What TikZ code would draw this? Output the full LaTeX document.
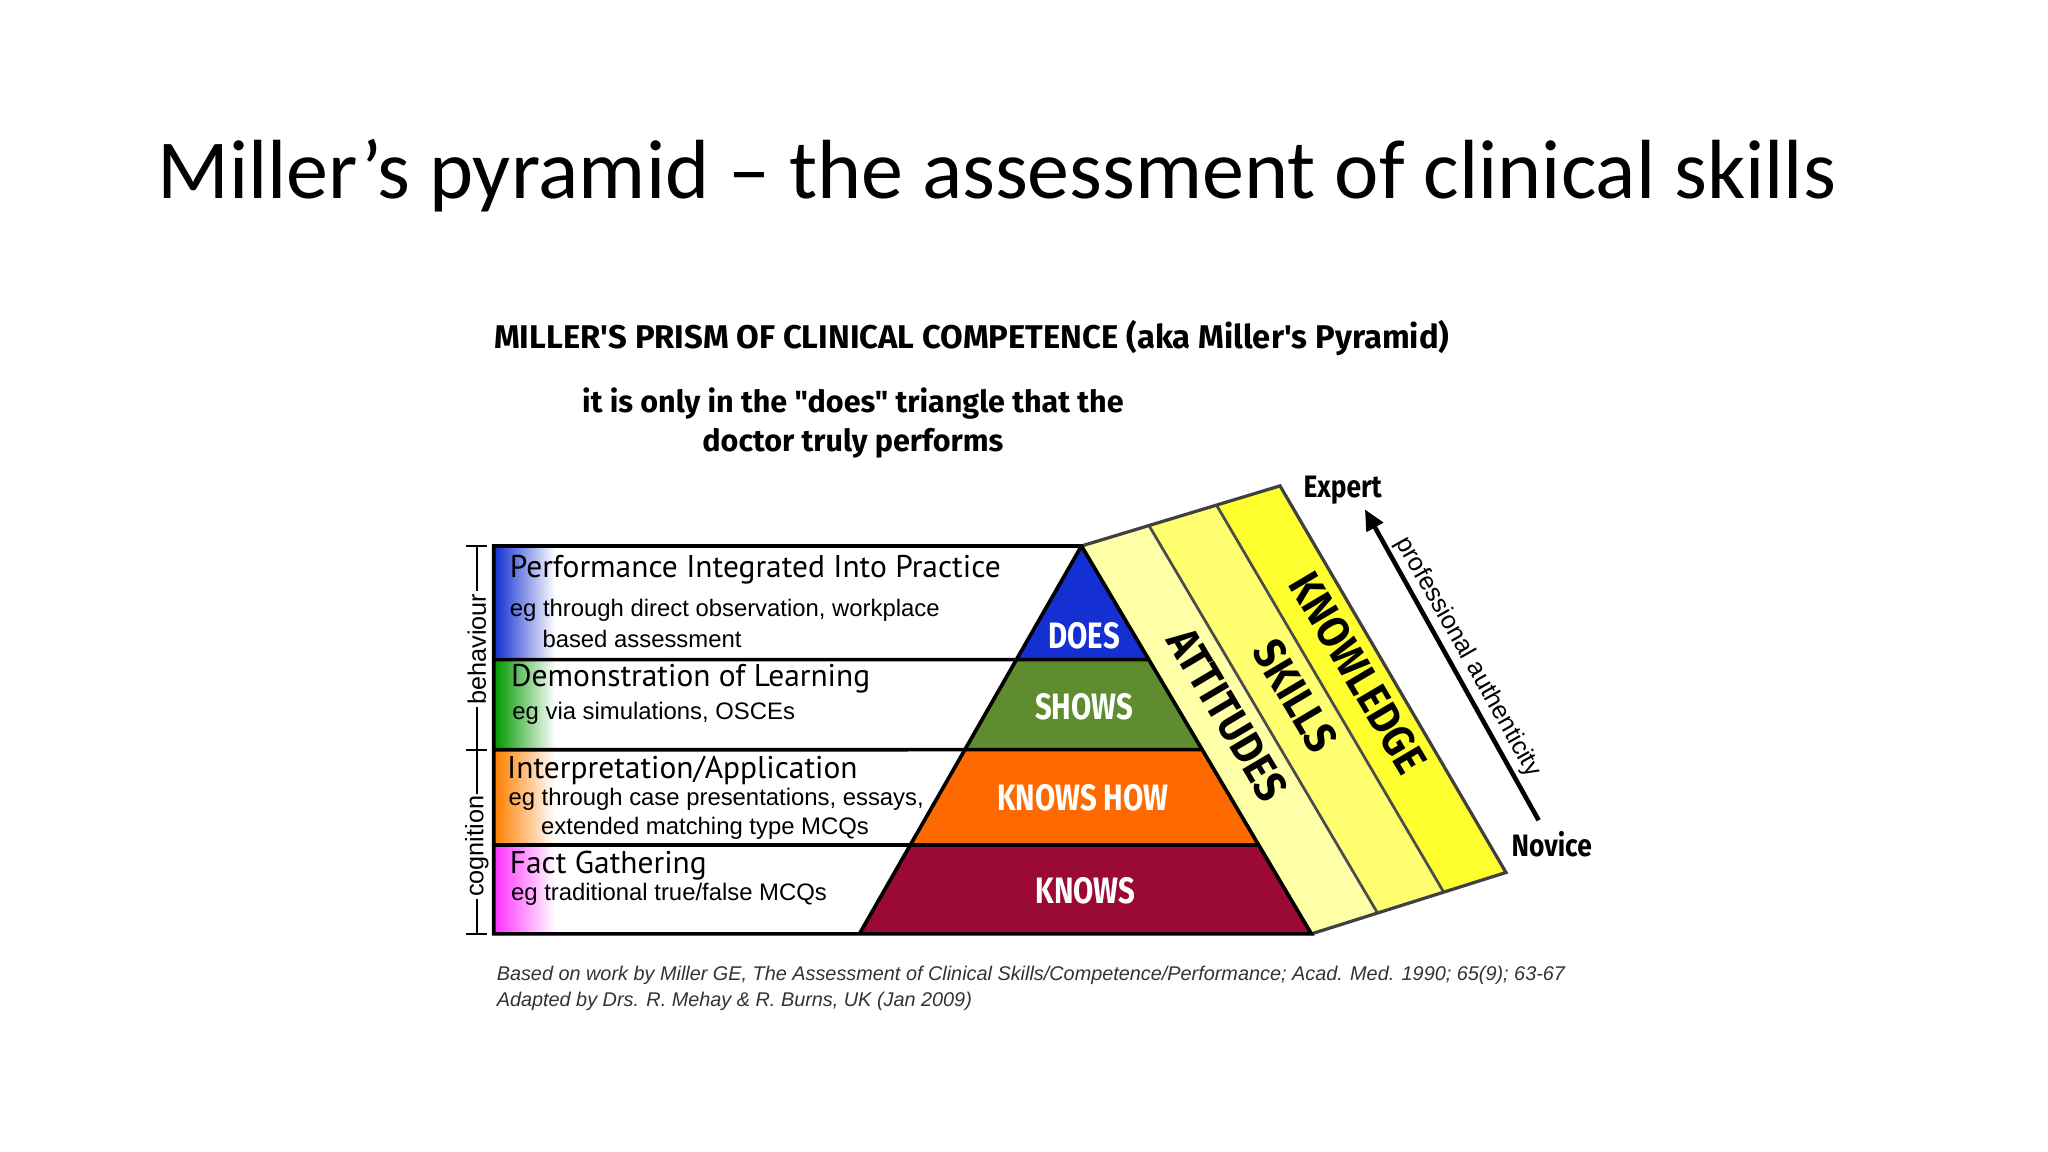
\documentclass[tikz,border=0pt]{standalone}
\usepackage{fontspec}
\setmainfont{Liberation Sans}
\newfontfamily\titlefont{Carlito}
\newfontfamily\headfont{Fira Sans}
\newfontfamily\rowfont{PT Sans}
\usetikzlibrary{calc,arrows.meta}
\definecolor{doesc}{HTML}{1430D2}
\definecolor{showsc}{HTML}{5E8C2E}
\definecolor{howc}{HTML}{FF6A00}
\definecolor{knowsc}{HTML}{9B0A35}
\definecolor{ylight}{HTML}{FFFFA8}
\definecolor{ymid}{HTML}{FFFF70}
\definecolor{ystrong}{HTML}{FFFF30}
\tikzset{
  edge/.style={draw=black,line width=1.6pt},
  lvl/.style={font=\headfont\bfseries\fontsize{16}{16}\selectfont,text=white,xscale=0.8},
  rowt/.style={anchor=west,font=\rowfont\fontsize{13.7}{14}\selectfont,inner sep=0},
  rowd/.style={anchor=west,font=\fontsize{10.4}{11}\selectfont,inner sep=0},
  prism/.style={font=\headfont\bfseries\fontsize{19.5}{20}\selectfont,rotate=-59.3,xscale=0.88},
  side/.style={font=\fontsize{11}{11}\selectfont,rotate=90,fill=white,inner sep=1pt},
}
\begin{document}
\begin{tikzpicture}[x=0.02cm,y=-0.02cm]
\useasboundingbox (0,0) rectangle (1568,882);
\fill[white] (0,0) rectangle (1568,882);
\node[anchor=base west,font=\titlefont\fontsize{36.6}{40}\selectfont,inner sep=0] (title) at (120,152) {Miller’s pyramid – the assessment of clinical skills};
\node[font=\headfont\bfseries\fontsize{14.3}{15}\selectfont] (sub) at (744,259) {MILLER'S PRISM OF CLINICAL COMPETENCE (aka Miller's Pyramid)};
\node[font=\headfont\bfseries\fontsize{13.3}{17}\selectfont,align=center] (sub2) at (653,324) {it is only in the "does" triangle that the\\doctor truly performs};
% pyramid coords
\coordinate (apex) at (828,418);
\coordinate (bl) at (658,715);
\coordinate (br) at (1004,715);
\coordinate (L1) at ($(apex)!0.293!(bl)$); \coordinate (R1) at ($(apex)!0.293!(br)$);
\coordinate (L2) at ($(apex)!0.525!(bl)$); \coordinate (R2) at ($(apex)!0.525!(br)$);
\coordinate (L3) at ($(apex)!0.771!(bl)$); \coordinate (R3) at ($(apex)!0.771!(br)$);
% prism
\coordinate (pt) at (980,372); \coordinate (pb) at (1153,668);
\fill[ylight] (apex) -- (pt) -- (pb) -- (br) -- cycle;
\fill[ymid] ($(apex)!0.34!(pt)$) -- (pt) -- (pb) -- ($(br)!0.34!(pb)$) -- cycle;
\fill[ystrong] ($(apex)!0.68!(pt)$) -- (pt) -- (pb) -- ($(br)!0.68!(pb)$) -- cycle;
\draw[line width=1.2pt,black!70] ($(apex)!0.34!(pt)$) -- ($(br)!0.34!(pb)$);
\draw[line width=1.2pt,black!70] ($(apex)!0.68!(pt)$) -- ($(br)!0.68!(pb)$);
\draw[line width=1.4pt,black!75] (apex) -- (pt) -- (pb) -- (br);
% row gradients
\shade[left color=doesc,right color=white] (379,419) rectangle (425,504);
\shade[left color=green!60!black,right color=white] (379,506) rectangle (425,573);
\shade[left color=orange,right color=white] (379,575) rectangle (425,646);
\shade[left color=magenta!80,right color=white] (379,648) rectangle (425,714);
% bands
\fill[doesc] (apex) -- (R1) -- (L1) -- cycle;
\fill[showsc] (L1) -- (R1) -- (R2) -- (L2) -- cycle;
\fill[howc] (L2) -- (R2) -- (R3) -- (L3) -- cycle;
\fill[knowsc] (L3) -- (R3) -- (br) -- (bl) -- cycle;
\draw[edge] (378,418) -- (apex) -- (br) -- (378,715) -- cycle;
\draw[edge] (apex) -- (bl);
\draw[edge] (378,505) -- (R1);
\draw[edge] (378,574) -- (R2);
\draw[edge] (378,647) -- (R3);
% level labels
\node[lvl] (does) at (830,487) {DOES};
\node[lvl] (shows) at (830,541) {SHOWS};
\node[lvl] (how) at (829,611) {KNOWS HOW};
\node[lvl] (knows) at (831,682) {KNOWS};
% row texts
\node[rowt] (r1t) at (390,436) {Performance Integrated Into Practice};
\node[rowd] (r1a) at (390,467) {eg through direct observation, workplace};
\node[rowd] (r1b) at (415,489) {based assessment};
\node[rowt] (r2t) at (391,520) {Demonstration of Learning};
\node[rowd] (r2a) at (392,546) {eg via simulations, OSCEs};
\node[rowt] (r3t) at (388,590) {Interpretation/Application};
\node[rowd] (r3a) at (389,612) {eg through case presentations, essays,};
\node[rowd] (r3b) at (414,634) {extended matching type MCQs};
\node[rowt] (r4t) at (390,663) {Fact Gathering};
\node[rowd] (r4a) at (391,685) {eg traditional true/false MCQs};
% prism labels
\node[prism] (att) at (940,547) {ATTITUDES};
\node[prism] (sk) at (992,533) {SKILLS};
\node[prism] (kn) at (1040,515) {KNOWLEDGE};
% side bracket
\draw[line width=1pt] (365,418) -- (365,715);
\foreach \yy in {418,574,715} \draw[line width=1pt] (357,\yy) -- (373,\yy);
\node[side] (beh) at (365,497) {behaviour};
\node[side] (cog) at (365,648) {cognition};
% arrow
\coordinate (nov) at (1178,628);
\coordinate (exp) at (1045,390);
\draw[line width=2pt,-{Triangle[length=9pt,width=8pt]}] (nov) -- (exp);
\node[font=\headfont\bfseries\fontsize{13.5}{14}\selectfont,xscale=0.85] (expert) at (1028,375) {Expert};
\node[font=\headfont\bfseries\fontsize{13.5}{14}\selectfont,xscale=0.85] (novice) at (1188,646) {Novice};
\node[font=\fontsize{11}{11}\selectfont,rotate=-60.5] (prof) at (1124,503) {professional authenticity};
% footer
\node[anchor=west,font=\itshape\fontsize{8.65}{9}\selectfont,text=black!80,inner sep=0] (f1) at (380,747) {Based on work by Miller GE, The Assessment of Clinical Skills/Competence/Performance; Acad. Med. 1990; 65(9); 63-67};
\node[anchor=west,font=\itshape\fontsize{8.65}{9}\selectfont,text=black!80,inner sep=0] (f2) at (380,767) {Adapted by Drs. R. Mehay \& R. Burns, UK (Jan 2009)};
\end{tikzpicture}
\end{document}
